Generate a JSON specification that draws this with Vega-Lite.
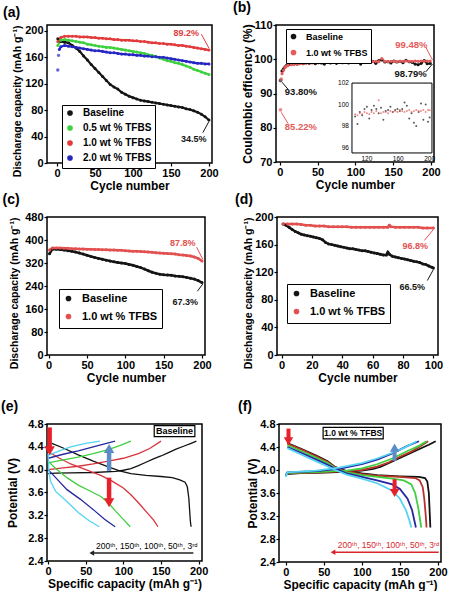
{
"$schema":"https://vega.github.io/schema/vega-lite/v6.json",
"background":"white",
"padding":{"left":0,"top":0,"right":0,"bottom":0},
"config":{
 "font":"Liberation Sans",
 "view":{"stroke":"black","strokeWidth":1.5},
 "axis":{"grid":false,"domain":false,"labelFontWeight":"bold","labelFontSize":11,"labelColor":"black","titleFontWeight":"bold","titleFontSize":12,"titleColor":"black","tickColor":"black","tickSize":3,"tickWidth":1.2,"labelPadding":1,"titlePadding":2,"labelFlush":false,"labelOverlap":false},
 "title":{"anchor":"start","frame":"bounds","fontSize":14,"fontWeight":"bold","color":"black","offset":0,"dx":-8},
 "legend":{"orient":"none","title":null,"strokeColor":"black","fillColor":"white","padding":3,"labelFontSize":10,"labelFontWeight":"bold","labelColor":"black","symbolType":"circle","symbolSize":10,"symbolStrokeWidth":2.5,"rowPadding":1,"labelOffset":8}
},
"datasets":{
 "a":[
{"s":"Baseline","x":1,"y":188},{"s":"Baseline","x":5,"y":184},{"s":"Baseline","x":10,"y":183},{"s":"Baseline","x":15,"y":182},{"s":"Baseline","x":20,"y":178},{"s":"Baseline","x":25,"y":174},{"s":"Baseline","x":30,"y":169},{"s":"Baseline","x":35,"y":162},{"s":"Baseline","x":40,"y":156},{"s":"Baseline","x":45,"y":149},{"s":"Baseline","x":50,"y":143},{"s":"Baseline","x":55,"y":137},{"s":"Baseline","x":60,"y":131},{"s":"Baseline","x":65,"y":125},{"s":"Baseline","x":70,"y":119},{"s":"Baseline","x":75,"y":115},{"s":"Baseline","x":80,"y":112},{"s":"Baseline","x":85,"y":107},{"s":"Baseline","x":90,"y":104},{"s":"Baseline","x":95,"y":101},{"s":"Baseline","x":100,"y":99},{"s":"Baseline","x":105,"y":97},{"s":"Baseline","x":110,"y":95},{"s":"Baseline","x":115,"y":94},{"s":"Baseline","x":120,"y":93},{"s":"Baseline","x":125,"y":92},{"s":"Baseline","x":130,"y":91},{"s":"Baseline","x":135,"y":90},{"s":"Baseline","x":140,"y":89},{"s":"Baseline","x":145,"y":88},{"s":"Baseline","x":150,"y":87},{"s":"Baseline","x":155,"y":86},{"s":"Baseline","x":160,"y":85},{"s":"Baseline","x":165,"y":84},{"s":"Baseline","x":170,"y":82},{"s":"Baseline","x":175,"y":81},{"s":"Baseline","x":180,"y":79},{"s":"Baseline","x":185,"y":77},{"s":"Baseline","x":190,"y":74},{"s":"Baseline","x":195,"y":70},{"s":"Baseline","x":200,"y":65},
{"s":"0.5 wt % TFBS","x":1,"y":178},{"s":"0.5 wt % TFBS","x":5,"y":186},{"s":"0.5 wt % TFBS","x":10,"y":187},{"s":"0.5 wt % TFBS","x":15,"y":186},{"s":"0.5 wt % TFBS","x":20,"y":185},{"s":"0.5 wt % TFBS","x":25,"y":184},{"s":"0.5 wt % TFBS","x":30,"y":183},{"s":"0.5 wt % TFBS","x":35,"y":182},{"s":"0.5 wt % TFBS","x":40,"y":180},{"s":"0.5 wt % TFBS","x":45,"y":179},{"s":"0.5 wt % TFBS","x":50,"y":178},{"s":"0.5 wt % TFBS","x":55,"y":177},{"s":"0.5 wt % TFBS","x":60,"y":176},{"s":"0.5 wt % TFBS","x":65,"y":175},{"s":"0.5 wt % TFBS","x":70,"y":175},{"s":"0.5 wt % TFBS","x":75,"y":174},{"s":"0.5 wt % TFBS","x":80,"y":173},{"s":"0.5 wt % TFBS","x":85,"y":172},{"s":"0.5 wt % TFBS","x":90,"y":171},{"s":"0.5 wt % TFBS","x":95,"y":170},{"s":"0.5 wt % TFBS","x":100,"y":169},{"s":"0.5 wt % TFBS","x":105,"y":168},{"s":"0.5 wt % TFBS","x":110,"y":167},{"s":"0.5 wt % TFBS","x":115,"y":166},{"s":"0.5 wt % TFBS","x":120,"y":164},{"s":"0.5 wt % TFBS","x":125,"y":163},{"s":"0.5 wt % TFBS","x":130,"y":161},{"s":"0.5 wt % TFBS","x":135,"y":159},{"s":"0.5 wt % TFBS","x":140,"y":157},{"s":"0.5 wt % TFBS","x":145,"y":155},{"s":"0.5 wt % TFBS","x":150,"y":154},{"s":"0.5 wt % TFBS","x":155,"y":152},{"s":"0.5 wt % TFBS","x":160,"y":151},{"s":"0.5 wt % TFBS","x":165,"y":149},{"s":"0.5 wt % TFBS","x":170,"y":147},{"s":"0.5 wt % TFBS","x":175,"y":145},{"s":"0.5 wt % TFBS","x":180,"y":142},{"s":"0.5 wt % TFBS","x":185,"y":140},{"s":"0.5 wt % TFBS","x":190,"y":138},{"s":"0.5 wt % TFBS","x":195,"y":136},{"s":"0.5 wt % TFBS","x":200,"y":134},
{"s":"2.0 wt % TFBS","x":3,"y":172},{"s":"2.0 wt % TFBS","x":5,"y":176},{"s":"2.0 wt % TFBS","x":10,"y":178},{"s":"2.0 wt % TFBS","x":15,"y":177},{"s":"2.0 wt % TFBS","x":20,"y":176},{"s":"2.0 wt % TFBS","x":25,"y":175},{"s":"2.0 wt % TFBS","x":30,"y":174},{"s":"2.0 wt % TFBS","x":35,"y":173},{"s":"2.0 wt % TFBS","x":40,"y":172},{"s":"2.0 wt % TFBS","x":45,"y":171},{"s":"2.0 wt % TFBS","x":50,"y":170},{"s":"2.0 wt % TFBS","x":55,"y":170},{"s":"2.0 wt % TFBS","x":60,"y":169},{"s":"2.0 wt % TFBS","x":65,"y":168},{"s":"2.0 wt % TFBS","x":70,"y":167},{"s":"2.0 wt % TFBS","x":75,"y":167},{"s":"2.0 wt % TFBS","x":80,"y":166},{"s":"2.0 wt % TFBS","x":85,"y":165},{"s":"2.0 wt % TFBS","x":90,"y":165},{"s":"2.0 wt % TFBS","x":95,"y":164},{"s":"2.0 wt % TFBS","x":100,"y":164},{"s":"2.0 wt % TFBS","x":105,"y":163},{"s":"2.0 wt % TFBS","x":110,"y":163},{"s":"2.0 wt % TFBS","x":115,"y":162},{"s":"2.0 wt % TFBS","x":120,"y":162},{"s":"2.0 wt % TFBS","x":125,"y":161},{"s":"2.0 wt % TFBS","x":130,"y":161},{"s":"2.0 wt % TFBS","x":135,"y":160},{"s":"2.0 wt % TFBS","x":140,"y":160},{"s":"2.0 wt % TFBS","x":145,"y":159},{"s":"2.0 wt % TFBS","x":150,"y":158},{"s":"2.0 wt % TFBS","x":155,"y":157},{"s":"2.0 wt % TFBS","x":160,"y":156},{"s":"2.0 wt % TFBS","x":165,"y":155},{"s":"2.0 wt % TFBS","x":170,"y":154},{"s":"2.0 wt % TFBS","x":175,"y":153},{"s":"2.0 wt % TFBS","x":180,"y":152},{"s":"2.0 wt % TFBS","x":185,"y":151},{"s":"2.0 wt % TFBS","x":190,"y":151},{"s":"2.0 wt % TFBS","x":195,"y":150},{"s":"2.0 wt % TFBS","x":200,"y":150},
{"s":"1.0 wt % TFBS","x":1,"y":184},{"s":"1.0 wt % TFBS","x":5,"y":190},{"s":"1.0 wt % TFBS","x":10,"y":192},{"s":"1.0 wt % TFBS","x":15,"y":192},{"s":"1.0 wt % TFBS","x":20,"y":192},{"s":"1.0 wt % TFBS","x":25,"y":192},{"s":"1.0 wt % TFBS","x":30,"y":191},{"s":"1.0 wt % TFBS","x":35,"y":191},{"s":"1.0 wt % TFBS","x":40,"y":191},{"s":"1.0 wt % TFBS","x":45,"y":190},{"s":"1.0 wt % TFBS","x":50,"y":190},{"s":"1.0 wt % TFBS","x":55,"y":189},{"s":"1.0 wt % TFBS","x":60,"y":189},{"s":"1.0 wt % TFBS","x":65,"y":188},{"s":"1.0 wt % TFBS","x":70,"y":188},{"s":"1.0 wt % TFBS","x":75,"y":187},{"s":"1.0 wt % TFBS","x":80,"y":187},{"s":"1.0 wt % TFBS","x":85,"y":186},{"s":"1.0 wt % TFBS","x":90,"y":186},{"s":"1.0 wt % TFBS","x":95,"y":186},{"s":"1.0 wt % TFBS","x":100,"y":185},{"s":"1.0 wt % TFBS","x":105,"y":185},{"s":"1.0 wt % TFBS","x":110,"y":184},{"s":"1.0 wt % TFBS","x":115,"y":184},{"s":"1.0 wt % TFBS","x":120,"y":183},{"s":"1.0 wt % TFBS","x":125,"y":182},{"s":"1.0 wt % TFBS","x":130,"y":182},{"s":"1.0 wt % TFBS","x":135,"y":181},{"s":"1.0 wt % TFBS","x":140,"y":181},{"s":"1.0 wt % TFBS","x":145,"y":180},{"s":"1.0 wt % TFBS","x":150,"y":180},{"s":"1.0 wt % TFBS","x":155,"y":179},{"s":"1.0 wt % TFBS","x":160,"y":178},{"s":"1.0 wt % TFBS","x":165,"y":178},{"s":"1.0 wt % TFBS","x":170,"y":177},{"s":"1.0 wt % TFBS","x":175,"y":176},{"s":"1.0 wt % TFBS","x":180,"y":175},{"s":"1.0 wt % TFBS","x":185,"y":174},{"s":"1.0 wt % TFBS","x":190,"y":173},{"s":"1.0 wt % TFBS","x":195,"y":172},{"s":"1.0 wt % TFBS","x":200,"y":171}
 ],
 "a0":[{"s":"2.0 wt % TFBS","x":1,"y":141},{"s":"2.0 wt % TFBS","x":2,"y":163}],
 "at":[{"s":"1.0 wt % TFBS","x":170,"y":197,"t":"89.2%"},{"s":"Baseline","x":180,"y":36,"t":"34.5%"}],
 "ar":[{"s":"1.0 wt % TFBS","x":190,"y":195,"x2":200,"y2":174},{"s":"Baseline","x":200,"y":63,"x2":192,"y2":46}],
 "b":[
{"s":"Baseline","x":3,"y":96.6},{"s":"Baseline","x":5,"y":97.2},{"s":"Baseline","x":7,"y":97.8},{"s":"Baseline","x":9,"y":98.2},{"s":"Baseline","x":11,"y":98.4},{"s":"Baseline","x":13,"y":98.5},{"s":"Baseline","x":15,"y":98.6},{"s":"Baseline","x":19,"y":98.7},{"s":"Baseline","x":23,"y":98.6},{"s":"Baseline","x":27,"y":98.9},{"s":"Baseline","x":31,"y":98.7},{"s":"Baseline","x":35,"y":99.0},{"s":"Baseline","x":39,"y":98.8},{"s":"Baseline","x":43,"y":99.1},{"s":"Baseline","x":47,"y":98.7},{"s":"Baseline","x":51,"y":99.0},{"s":"Baseline","x":55,"y":98.9},{"s":"Baseline","x":59,"y":98.6},{"s":"Baseline","x":63,"y":99.2},{"s":"Baseline","x":67,"y":98.9},{"s":"Baseline","x":71,"y":99.1},{"s":"Baseline","x":75,"y":98.8},{"s":"Baseline","x":79,"y":99.3},{"s":"Baseline","x":83,"y":99.0},{"s":"Baseline","x":87,"y":99.4},{"s":"Baseline","x":91,"y":98.9},{"s":"Baseline","x":95,"y":99.6},{"s":"Baseline","x":99,"y":99.2},{"s":"Baseline","x":103,"y":99.8},{"s":"Baseline","x":107,"y":98.6},{"s":"Baseline","x":111,"y":99.3},{"s":"Baseline","x":115,"y":99.5},{"s":"Baseline","x":119,"y":99.1},{"s":"Baseline","x":123,"y":99.4},{"s":"Baseline","x":127,"y":98.8},{"s":"Baseline","x":131,"y":99.6},{"s":"Baseline","x":135,"y":99.8},{"s":"Baseline","x":139,"y":99.2},{"s":"Baseline","x":143,"y":99.3},{"s":"Baseline","x":147,"y":98.9},{"s":"Baseline","x":151,"y":99.5},{"s":"Baseline","x":155,"y":99.2},{"s":"Baseline","x":159,"y":99.4},{"s":"Baseline","x":163,"y":99.0},{"s":"Baseline","x":167,"y":99.7},{"s":"Baseline","x":171,"y":99.3},{"s":"Baseline","x":175,"y":99.1},{"s":"Baseline","x":179,"y":98.6},{"s":"Baseline","x":183,"y":98.4},{"s":"Baseline","x":187,"y":98.8},{"s":"Baseline","x":191,"y":99.6},{"s":"Baseline","x":195,"y":98.7},{"s":"Baseline","x":199,"y":98.79},
{"s":"1.0 wt % TFBS","x":3,"y":95.8},{"s":"1.0 wt % TFBS","x":5,"y":96.8},{"s":"1.0 wt % TFBS","x":7,"y":97.6},{"s":"1.0 wt % TFBS","x":9,"y":98.0},{"s":"1.0 wt % TFBS","x":11,"y":98.2},{"s":"1.0 wt % TFBS","x":15,"y":98.4},{"s":"1.0 wt % TFBS","x":19,"y":98.5},{"s":"1.0 wt % TFBS","x":23,"y":98.6},{"s":"1.0 wt % TFBS","x":27,"y":98.7},{"s":"1.0 wt % TFBS","x":31,"y":98.8},{"s":"1.0 wt % TFBS","x":35,"y":98.8},{"s":"1.0 wt % TFBS","x":39,"y":98.9},{"s":"1.0 wt % TFBS","x":43,"y":98.9},{"s":"1.0 wt % TFBS","x":47,"y":99.0},{"s":"1.0 wt % TFBS","x":51,"y":99.0},{"s":"1.0 wt % TFBS","x":55,"y":99.0},{"s":"1.0 wt % TFBS","x":59,"y":99.1},{"s":"1.0 wt % TFBS","x":63,"y":99.1},{"s":"1.0 wt % TFBS","x":67,"y":99.1},{"s":"1.0 wt % TFBS","x":71,"y":99.1},{"s":"1.0 wt % TFBS","x":75,"y":99.2},{"s":"1.0 wt % TFBS","x":79,"y":99.2},{"s":"1.0 wt % TFBS","x":83,"y":99.2},{"s":"1.0 wt % TFBS","x":87,"y":99.2},{"s":"1.0 wt % TFBS","x":91,"y":99.3},{"s":"1.0 wt % TFBS","x":95,"y":99.2},{"s":"1.0 wt % TFBS","x":99,"y":99.3},{"s":"1.0 wt % TFBS","x":103,"y":99.3},{"s":"1.0 wt % TFBS","x":107,"y":99.2},{"s":"1.0 wt % TFBS","x":111,"y":99.3},{"s":"1.0 wt % TFBS","x":115,"y":99.3},{"s":"1.0 wt % TFBS","x":119,"y":99.4},{"s":"1.0 wt % TFBS","x":123,"y":99.3},{"s":"1.0 wt % TFBS","x":127,"y":99.4},{"s":"1.0 wt % TFBS","x":131,"y":99.3},{"s":"1.0 wt % TFBS","x":135,"y":100.2},{"s":"1.0 wt % TFBS","x":139,"y":99.4},{"s":"1.0 wt % TFBS","x":143,"y":99.3},{"s":"1.0 wt % TFBS","x":147,"y":99.4},{"s":"1.0 wt % TFBS","x":151,"y":99.4},{"s":"1.0 wt % TFBS","x":155,"y":99.3},{"s":"1.0 wt % TFBS","x":159,"y":99.4},{"s":"1.0 wt % TFBS","x":163,"y":99.4},{"s":"1.0 wt % TFBS","x":167,"y":99.5},{"s":"1.0 wt % TFBS","x":171,"y":99.4},{"s":"1.0 wt % TFBS","x":175,"y":99.4},{"s":"1.0 wt % TFBS","x":179,"y":99.5},{"s":"1.0 wt % TFBS","x":183,"y":99.4},{"s":"1.0 wt % TFBS","x":187,"y":99.5},{"s":"1.0 wt % TFBS","x":191,"y":99.4},{"s":"1.0 wt % TFBS","x":195,"y":99.5},{"s":"1.0 wt % TFBS","x":199,"y":99.48}
 ],
 "b0":[{"s":"Baseline","x":1,"y":93.8},{"s":"1.0 wt % TFBS","x":1,"y":85.22},{"s":"1.0 wt % TFBS","x":2,"y":94.2}],
 "bt":[{"s":"1.0 wt % TFBS","x":174,"y":104.2,"t":"99.48%"},{"s":"Baseline","x":173,"y":95.7,"t":"98.79%"},{"s":"Baseline","x":28,"y":90.4,"t":"93.80%"},{"s":"1.0 wt % TFBS","x":28,"y":80.2,"t":"85.22%"}],
 "br":[{"s":"1.0 wt % TFBS","x":193,"y":103.6,"x2":202,"y2":99.8},{"s":"Baseline","x":193,"y":96.3,"x2":202,"y2":98.6},{"s":"Baseline","x":3,"y":93.3,"x2":11,"y2":91.2},{"s":"1.0 wt % TFBS","x":2,"y":84.5,"x2":11,"y2":81.2}],
 "bi":[
{"s":"Baseline","x":105,"y":98.9},{"s":"Baseline","x":108,"y":98.2},{"s":"Baseline","x":111,"y":99.3},{"s":"Baseline","x":114,"y":99.0},{"s":"Baseline","x":117,"y":99.6},{"s":"Baseline","x":120,"y":99.8},{"s":"Baseline","x":123,"y":98.7},{"s":"Baseline","x":126,"y":99.5},{"s":"Baseline","x":129,"y":99.9},{"s":"Baseline","x":132,"y":99.6},{"s":"Baseline","x":135,"y":99.2},{"s":"Baseline","x":138,"y":99.7},{"s":"Baseline","x":141,"y":98.6},{"s":"Baseline","x":144,"y":99.4},{"s":"Baseline","x":147,"y":99.5},{"s":"Baseline","x":150,"y":99.8},{"s":"Baseline","x":153,"y":99.3},{"s":"Baseline","x":156,"y":99.5},{"s":"Baseline","x":159,"y":99.6},{"s":"Baseline","x":162,"y":99.4},{"s":"Baseline","x":165,"y":99.6},{"s":"Baseline","x":168,"y":100.2},{"s":"Baseline","x":171,"y":99.9},{"s":"Baseline","x":174,"y":98.7},{"s":"Baseline","x":177,"y":99.2},{"s":"Baseline","x":180,"y":98.3},{"s":"Baseline","x":183,"y":98.0},{"s":"Baseline","x":186,"y":99.3},{"s":"Baseline","x":189,"y":100.1},{"s":"Baseline","x":192,"y":98.6},{"s":"Baseline","x":195,"y":100.0},{"s":"Baseline","x":198,"y":98.4},{"s":"Baseline","x":200,"y":98.8},
{"s":"1.0 wt % TFBS","x":105,"y":99.1},{"s":"1.0 wt % TFBS","x":108,"y":99.0},{"s":"1.0 wt % TFBS","x":111,"y":99.2},{"s":"1.0 wt % TFBS","x":114,"y":99.1},{"s":"1.0 wt % TFBS","x":117,"y":99.3},{"s":"1.0 wt % TFBS","x":120,"y":99.2},{"s":"1.0 wt % TFBS","x":123,"y":99.1},{"s":"1.0 wt % TFBS","x":126,"y":99.3},{"s":"1.0 wt % TFBS","x":129,"y":99.2},{"s":"1.0 wt % TFBS","x":132,"y":99.4},{"s":"1.0 wt % TFBS","x":135,"y":100.4},{"s":"1.0 wt % TFBS","x":138,"y":99.2},{"s":"1.0 wt % TFBS","x":141,"y":99.3},{"s":"1.0 wt % TFBS","x":144,"y":99.3},{"s":"1.0 wt % TFBS","x":147,"y":99.2},{"s":"1.0 wt % TFBS","x":150,"y":99.4},{"s":"1.0 wt % TFBS","x":153,"y":99.3},{"s":"1.0 wt % TFBS","x":156,"y":99.4},{"s":"1.0 wt % TFBS","x":159,"y":99.3},{"s":"1.0 wt % TFBS","x":162,"y":99.5},{"s":"1.0 wt % TFBS","x":165,"y":99.4},{"s":"1.0 wt % TFBS","x":168,"y":99.3},{"s":"1.0 wt % TFBS","x":171,"y":99.4},{"s":"1.0 wt % TFBS","x":174,"y":99.5},{"s":"1.0 wt % TFBS","x":177,"y":99.3},{"s":"1.0 wt % TFBS","x":180,"y":99.4},{"s":"1.0 wt % TFBS","x":183,"y":99.5},{"s":"1.0 wt % TFBS","x":186,"y":99.4},{"s":"1.0 wt % TFBS","x":189,"y":99.4},{"s":"1.0 wt % TFBS","x":192,"y":99.5},{"s":"1.0 wt % TFBS","x":195,"y":99.3},{"s":"1.0 wt % TFBS","x":198,"y":99.5},{"s":"1.0 wt % TFBS","x":200,"y":99.48}
 ],
 "bix":[{"x":120,"y":95.5,"t":"120"},{"x":160,"y":95.5,"t":"160"},{"x":200,"y":95.5,"t":"200"}],
 "biy":[{"x":101,"y":96,"t":"96"},{"x":101,"y":98,"t":"98"},{"x":101,"y":100,"t":"100"},{"x":101,"y":102,"t":"102"}],
 "c":[
{"s":"Baseline","x":1,"y":352},{"s":"Baseline","x":5,"y":369},{"s":"Baseline","x":10,"y":368},{"s":"Baseline","x":15,"y":367},{"s":"Baseline","x":20,"y":365},{"s":"Baseline","x":25,"y":363},{"s":"Baseline","x":30,"y":361},{"s":"Baseline","x":35,"y":358},{"s":"Baseline","x":40,"y":355},{"s":"Baseline","x":45,"y":351},{"s":"Baseline","x":50,"y":347},{"s":"Baseline","x":55,"y":343},{"s":"Baseline","x":60,"y":339},{"s":"Baseline","x":65,"y":336},{"s":"Baseline","x":70,"y":333},{"s":"Baseline","x":75,"y":330},{"s":"Baseline","x":80,"y":327},{"s":"Baseline","x":85,"y":324},{"s":"Baseline","x":90,"y":322},{"s":"Baseline","x":95,"y":320},{"s":"Baseline","x":100,"y":318},{"s":"Baseline","x":105,"y":315},{"s":"Baseline","x":110,"y":312},{"s":"Baseline","x":115,"y":308},{"s":"Baseline","x":120,"y":304},{"s":"Baseline","x":125,"y":299},{"s":"Baseline","x":130,"y":293},{"s":"Baseline","x":135,"y":288},{"s":"Baseline","x":140,"y":284},{"s":"Baseline","x":145,"y":281},{"s":"Baseline","x":150,"y":279},{"s":"Baseline","x":155,"y":278},{"s":"Baseline","x":160,"y":277},{"s":"Baseline","x":165,"y":275},{"s":"Baseline","x":170,"y":274},{"s":"Baseline","x":175,"y":272},{"s":"Baseline","x":180,"y":270},{"s":"Baseline","x":185,"y":267},{"s":"Baseline","x":190,"y":264},{"s":"Baseline","x":195,"y":259},{"s":"Baseline","x":200,"y":252},
{"s":"1.0 wt % TFBS","x":1,"y":365},{"s":"1.0 wt % TFBS","x":5,"y":372},{"s":"1.0 wt % TFBS","x":10,"y":372},{"s":"1.0 wt % TFBS","x":15,"y":372},{"s":"1.0 wt % TFBS","x":20,"y":371},{"s":"1.0 wt % TFBS","x":25,"y":371},{"s":"1.0 wt % TFBS","x":30,"y":370},{"s":"1.0 wt % TFBS","x":35,"y":370},{"s":"1.0 wt % TFBS","x":40,"y":369},{"s":"1.0 wt % TFBS","x":45,"y":369},{"s":"1.0 wt % TFBS","x":50,"y":368},{"s":"1.0 wt % TFBS","x":55,"y":368},{"s":"1.0 wt % TFBS","x":60,"y":367},{"s":"1.0 wt % TFBS","x":65,"y":367},{"s":"1.0 wt % TFBS","x":70,"y":366},{"s":"1.0 wt % TFBS","x":75,"y":366},{"s":"1.0 wt % TFBS","x":80,"y":365},{"s":"1.0 wt % TFBS","x":85,"y":365},{"s":"1.0 wt % TFBS","x":90,"y":364},{"s":"1.0 wt % TFBS","x":95,"y":364},{"s":"1.0 wt % TFBS","x":100,"y":363},{"s":"1.0 wt % TFBS","x":105,"y":362},{"s":"1.0 wt % TFBS","x":110,"y":361},{"s":"1.0 wt % TFBS","x":115,"y":361},{"s":"1.0 wt % TFBS","x":120,"y":360},{"s":"1.0 wt % TFBS","x":125,"y":359},{"s":"1.0 wt % TFBS","x":130,"y":358},{"s":"1.0 wt % TFBS","x":135,"y":357},{"s":"1.0 wt % TFBS","x":140,"y":356},{"s":"1.0 wt % TFBS","x":145,"y":355},{"s":"1.0 wt % TFBS","x":150,"y":354},{"s":"1.0 wt % TFBS","x":155,"y":353},{"s":"1.0 wt % TFBS","x":160,"y":352},{"s":"1.0 wt % TFBS","x":165,"y":351},{"s":"1.0 wt % TFBS","x":170,"y":349},{"s":"1.0 wt % TFBS","x":175,"y":348},{"s":"1.0 wt % TFBS","x":180,"y":346},{"s":"1.0 wt % TFBS","x":185,"y":344},{"s":"1.0 wt % TFBS","x":190,"y":341},{"s":"1.0 wt % TFBS","x":195,"y":336},{"s":"1.0 wt % TFBS","x":200,"y":327}
 ],
 "ct":[{"s":"1.0 wt % TFBS","x":175,"y":388,"t":"87.8%"},{"s":"Baseline","x":178,"y":184,"t":"67.3%"}],
 "cr":[{"s":"1.0 wt % TFBS","x":193,"y":375,"x2":201,"y2":333},{"s":"Baseline","x":201,"y":247,"x2":194,"y2":222}],
 "d":[
{"s":"Baseline","x":1,"y":190},{"s":"Baseline","x":3,"y":188},{"s":"Baseline","x":5,"y":185},{"s":"Baseline","x":7,"y":182},{"s":"Baseline","x":9,"y":179},{"s":"Baseline","x":11,"y":177},{"s":"Baseline","x":13,"y":175},{"s":"Baseline","x":15,"y":174},{"s":"Baseline","x":17,"y":173},{"s":"Baseline","x":19,"y":172},{"s":"Baseline","x":21,"y":171},{"s":"Baseline","x":23,"y":170},{"s":"Baseline","x":25,"y":169},{"s":"Baseline","x":27,"y":167},{"s":"Baseline","x":29,"y":163},{"s":"Baseline","x":31,"y":161},{"s":"Baseline","x":33,"y":160},{"s":"Baseline","x":35,"y":159},{"s":"Baseline","x":37,"y":158},{"s":"Baseline","x":39,"y":157},{"s":"Baseline","x":41,"y":156},{"s":"Baseline","x":43,"y":155},{"s":"Baseline","x":45,"y":154},{"s":"Baseline","x":47,"y":154},{"s":"Baseline","x":49,"y":153},{"s":"Baseline","x":51,"y":152},{"s":"Baseline","x":53,"y":151},{"s":"Baseline","x":55,"y":151},{"s":"Baseline","x":57,"y":150},{"s":"Baseline","x":59,"y":149},{"s":"Baseline","x":61,"y":148},{"s":"Baseline","x":63,"y":147},{"s":"Baseline","x":65,"y":146},{"s":"Baseline","x":67,"y":145},{"s":"Baseline","x":69,"y":145},{"s":"Baseline","x":70,"y":149},{"s":"Baseline","x":71,"y":146},{"s":"Baseline","x":73,"y":143},{"s":"Baseline","x":75,"y":142},{"s":"Baseline","x":77,"y":141},{"s":"Baseline","x":79,"y":140},{"s":"Baseline","x":81,"y":139},{"s":"Baseline","x":83,"y":138},{"s":"Baseline","x":85,"y":137},{"s":"Baseline","x":87,"y":136},{"s":"Baseline","x":89,"y":135},{"s":"Baseline","x":91,"y":134},{"s":"Baseline","x":93,"y":132},{"s":"Baseline","x":95,"y":131},{"s":"Baseline","x":97,"y":129},{"s":"Baseline","x":99,"y":127},{"s":"Baseline","x":100,"y":126},
{"s":"1.0 wt % TFBS","x":1,"y":190},{"s":"1.0 wt % TFBS","x":4,"y":190},{"s":"1.0 wt % TFBS","x":7,"y":190},{"s":"1.0 wt % TFBS","x":10,"y":190},{"s":"1.0 wt % TFBS","x":13,"y":189},{"s":"1.0 wt % TFBS","x":16,"y":188},{"s":"1.0 wt % TFBS","x":19,"y":188},{"s":"1.0 wt % TFBS","x":22,"y":187},{"s":"1.0 wt % TFBS","x":25,"y":187},{"s":"1.0 wt % TFBS","x":28,"y":187},{"s":"1.0 wt % TFBS","x":31,"y":186},{"s":"1.0 wt % TFBS","x":34,"y":186},{"s":"1.0 wt % TFBS","x":37,"y":186},{"s":"1.0 wt % TFBS","x":40,"y":186},{"s":"1.0 wt % TFBS","x":43,"y":186},{"s":"1.0 wt % TFBS","x":46,"y":185},{"s":"1.0 wt % TFBS","x":49,"y":185},{"s":"1.0 wt % TFBS","x":52,"y":185},{"s":"1.0 wt % TFBS","x":55,"y":185},{"s":"1.0 wt % TFBS","x":58,"y":185},{"s":"1.0 wt % TFBS","x":61,"y":185},{"s":"1.0 wt % TFBS","x":64,"y":185},{"s":"1.0 wt % TFBS","x":67,"y":185},{"s":"1.0 wt % TFBS","x":70,"y":185},{"s":"1.0 wt % TFBS","x":71,"y":188},{"s":"1.0 wt % TFBS","x":72,"y":186},{"s":"1.0 wt % TFBS","x":75,"y":185},{"s":"1.0 wt % TFBS","x":78,"y":185},{"s":"1.0 wt % TFBS","x":81,"y":185},{"s":"1.0 wt % TFBS","x":84,"y":185},{"s":"1.0 wt % TFBS","x":87,"y":185},{"s":"1.0 wt % TFBS","x":90,"y":185},{"s":"1.0 wt % TFBS","x":93,"y":184},{"s":"1.0 wt % TFBS","x":96,"y":184},{"s":"1.0 wt % TFBS","x":100,"y":184}
 ],
 "dt":[{"s":"1.0 wt % TFBS","x":88,"y":158,"t":"96.8%"},{"s":"Baseline","x":86,"y":98.5,"t":"66.5%"}],
 "dr":[{"s":"1.0 wt % TFBS","x":100,"y":182,"x2":94,"y2":166},{"s":"Baseline","x":100,"y":124,"x2":96,"y2":108}],
 "e":[
{"c":"3rd","g":"ch","x":0,"y":3.93},{"c":"3rd","g":"ch","x":10,"y":3.94},{"c":"3rd","g":"ch","x":30,"y":3.945},{"c":"3rd","g":"ch","x":60,"y":3.95},{"c":"3rd","g":"ch","x":90,"y":3.97},{"c":"3rd","g":"ch","x":100,"y":3.99},{"c":"3rd","g":"ch","x":110,"y":4.02},{"c":"3rd","g":"ch","x":120,"y":4.07},{"c":"3rd","g":"ch","x":130,"y":4.13},{"c":"3rd","g":"ch","x":140,"y":4.19},{"c":"3rd","g":"ch","x":150,"y":4.24},{"c":"3rd","g":"ch","x":160,"y":4.3},{"c":"3rd","g":"ch","x":170,"y":4.36},{"c":"3rd","g":"ch","x":180,"y":4.41},{"c":"3rd","g":"ch","x":190,"y":4.46},{"c":"3rd","g":"ch","x":197,"y":4.5},
{"c":"3rd","g":"dis","x":5,"y":4.46},{"c":"3rd","g":"dis","x":20,"y":4.38},{"c":"3rd","g":"dis","x":40,"y":4.26},{"c":"3rd","g":"dis","x":60,"y":4.15},{"c":"3rd","g":"dis","x":80,"y":4.05},{"c":"3rd","g":"dis","x":95,"y":3.98},{"c":"3rd","g":"dis","x":110,"y":3.93},{"c":"3rd","g":"dis","x":130,"y":3.9},{"c":"3rd","g":"dis","x":150,"y":3.88},{"c":"3rd","g":"dis","x":165,"y":3.86},{"c":"3rd","g":"dis","x":175,"y":3.82},{"c":"3rd","g":"dis","x":182,"y":3.78},{"c":"3rd","g":"dis","x":185,"y":3.7},{"c":"3rd","g":"dis","x":187,"y":3.5},{"c":"3rd","g":"dis","x":188,"y":3.3},{"c":"3rd","g":"dis","x":189,"y":3.1},{"c":"3rd","g":"dis","x":190,"y":3.0},
{"c":"50th","g":"ch","x":0,"y":4.0},{"c":"50th","g":"ch","x":20,"y":4.03},{"c":"50th","g":"ch","x":40,"y":4.06},{"c":"50th","g":"ch","x":60,"y":4.1},{"c":"50th","g":"ch","x":80,"y":4.15},{"c":"50th","g":"ch","x":100,"y":4.2},{"c":"50th","g":"ch","x":120,"y":4.28},{"c":"50th","g":"ch","x":135,"y":4.37},{"c":"50th","g":"ch","x":150,"y":4.5},
{"c":"50th","g":"dis","x":2,"y":4.3},{"c":"50th","g":"dis","x":15,"y":4.2},{"c":"50th","g":"dis","x":30,"y":4.1},{"c":"50th","g":"dis","x":50,"y":4.0},{"c":"50th","g":"dis","x":70,"y":3.9},{"c":"50th","g":"dis","x":85,"y":3.8},{"c":"50th","g":"dis","x":100,"y":3.68},{"c":"50th","g":"dis","x":110,"y":3.56},{"c":"50th","g":"dis","x":120,"y":3.42},{"c":"50th","g":"dis","x":130,"y":3.27},{"c":"50th","g":"dis","x":140,"y":3.12},{"c":"50th","g":"dis","x":146,"y":3.0},
{"c":"100th","g":"ch","x":0,"y":4.12},{"c":"100th","g":"ch","x":20,"y":4.17},{"c":"100th","g":"ch","x":40,"y":4.22},{"c":"100th","g":"ch","x":60,"y":4.28},{"c":"100th","g":"ch","x":80,"y":4.35},{"c":"100th","g":"ch","x":95,"y":4.42},{"c":"100th","g":"ch","x":110,"y":4.5},
{"c":"100th","g":"dis","x":0,"y":4.15},{"c":"100th","g":"dis","x":10,"y":4.02},{"c":"100th","g":"dis","x":25,"y":3.86},{"c":"100th","g":"dis","x":40,"y":3.73},{"c":"100th","g":"dis","x":55,"y":3.63},{"c":"100th","g":"dis","x":70,"y":3.53},{"c":"100th","g":"dis","x":80,"y":3.42},{"c":"100th","g":"dis","x":90,"y":3.27},{"c":"100th","g":"dis","x":100,"y":3.13},{"c":"100th","g":"dis","x":109,"y":3.0},
{"c":"150th","g":"ch","x":0,"y":4.2},{"c":"150th","g":"ch","x":20,"y":4.27},{"c":"150th","g":"ch","x":40,"y":4.33},{"c":"150th","g":"ch","x":60,"y":4.4},{"c":"150th","g":"ch","x":75,"y":4.45},{"c":"150th","g":"ch","x":89,"y":4.5},
{"c":"150th","g":"dis","x":0,"y":4.0},{"c":"150th","g":"dis","x":10,"y":3.86},{"c":"150th","g":"dis","x":25,"y":3.65},{"c":"150th","g":"dis","x":43,"y":3.48},{"c":"150th","g":"dis","x":60,"y":3.3},{"c":"150th","g":"dis","x":75,"y":3.13},{"c":"150th","g":"dis","x":89,"y":3.0},
{"c":"200th","g":"ch","x":0,"y":4.25},{"c":"200th","g":"ch","x":15,"y":4.33},{"c":"200th","g":"ch","x":30,"y":4.4},{"c":"200th","g":"ch","x":50,"y":4.46},{"c":"200th","g":"ch","x":69,"y":4.5},
{"c":"200th","g":"dis","x":0,"y":4.28},{"c":"200th","g":"dis","x":1,"y":4.0},{"c":"200th","g":"dis","x":3,"y":3.8},{"c":"200th","g":"dis","x":10,"y":3.62},{"c":"200th","g":"dis","x":26,"y":3.43},{"c":"200th","g":"dis","x":40,"y":3.25},{"c":"200th","g":"dis","x":55,"y":3.1},{"c":"200th","g":"dis","x":68,"y":3.0}
 ],
 "f":[
{"c":"3rd","g":"ch","x":0,"y":3.93},{"c":"3rd","g":"ch","x":20,"y":3.945},{"c":"3rd","g":"ch","x":40,"y":3.95},{"c":"3rd","g":"ch","x":60,"y":3.96},{"c":"3rd","g":"ch","x":80,"y":3.97},{"c":"3rd","g":"ch","x":100,"y":3.99},{"c":"3rd","g":"ch","x":115,"y":4.02},{"c":"3rd","g":"ch","x":125,"y":4.06},{"c":"3rd","g":"ch","x":135,"y":4.12},{"c":"3rd","g":"ch","x":145,"y":4.18},{"c":"3rd","g":"ch","x":160,"y":4.27},{"c":"3rd","g":"ch","x":175,"y":4.36},{"c":"3rd","g":"ch","x":188,"y":4.44},{"c":"3rd","g":"ch","x":197,"y":4.5},
{"c":"3rd","g":"dis","x":2,"y":4.47},{"c":"3rd","g":"dis","x":20,"y":4.37},{"c":"3rd","g":"dis","x":40,"y":4.25},{"c":"3rd","g":"dis","x":55,"y":4.15},{"c":"3rd","g":"dis","x":65,"y":4.05},{"c":"3rd","g":"dis","x":80,"y":3.98},{"c":"3rd","g":"dis","x":100,"y":3.94},{"c":"3rd","g":"dis","x":120,"y":3.91},{"c":"3rd","g":"dis","x":150,"y":3.89},{"c":"3rd","g":"dis","x":175,"y":3.88},{"c":"3rd","g":"dis","x":183,"y":3.86},{"c":"3rd","g":"dis","x":186,"y":3.8},{"c":"3rd","g":"dis","x":188,"y":3.6},{"c":"3rd","g":"dis","x":189,"y":3.3},{"c":"3rd","g":"dis","x":190,"y":3.0},
{"c":"50th","g":"ch","x":0,"y":3.94},{"c":"50th","g":"ch","x":40,"y":3.955},{"c":"50th","g":"ch","x":80,"y":3.98},{"c":"50th","g":"ch","x":100,"y":4.0},{"c":"50th","g":"ch","x":120,"y":4.06},{"c":"50th","g":"ch","x":135,"y":4.13},{"c":"50th","g":"ch","x":150,"y":4.23},{"c":"50th","g":"ch","x":165,"y":4.32},{"c":"50th","g":"ch","x":178,"y":4.42},{"c":"50th","g":"ch","x":187,"y":4.5},
{"c":"50th","g":"dis","x":2,"y":4.46},{"c":"50th","g":"dis","x":20,"y":4.36},{"c":"50th","g":"dis","x":40,"y":4.24},{"c":"50th","g":"dis","x":55,"y":4.14},{"c":"50th","g":"dis","x":65,"y":4.05},{"c":"50th","g":"dis","x":80,"y":3.97},{"c":"50th","g":"dis","x":100,"y":3.93},{"c":"50th","g":"dis","x":120,"y":3.9},{"c":"50th","g":"dis","x":150,"y":3.88},{"c":"50th","g":"dis","x":170,"y":3.86},{"c":"50th","g":"dis","x":176,"y":3.82},{"c":"50th","g":"dis","x":180,"y":3.7},{"c":"50th","g":"dis","x":182,"y":3.5},{"c":"50th","g":"dis","x":184,"y":3.2},{"c":"50th","g":"dis","x":185,"y":3.0},
{"c":"100th","g":"ch","x":0,"y":3.9},{"c":"100th","g":"ch","x":2,"y":3.95},{"c":"100th","g":"ch","x":40,"y":3.965},{"c":"100th","g":"ch","x":80,"y":3.99},{"c":"100th","g":"ch","x":100,"y":4.03},{"c":"100th","g":"ch","x":120,"y":4.1},{"c":"100th","g":"ch","x":140,"y":4.2},{"c":"100th","g":"ch","x":160,"y":4.33},{"c":"100th","g":"ch","x":175,"y":4.42},{"c":"100th","g":"ch","x":185,"y":4.5},
{"c":"100th","g":"dis","x":2,"y":4.43},{"c":"100th","g":"dis","x":20,"y":4.33},{"c":"100th","g":"dis","x":40,"y":4.21},{"c":"100th","g":"dis","x":55,"y":4.12},{"c":"100th","g":"dis","x":65,"y":4.03},{"c":"100th","g":"dis","x":80,"y":3.96},{"c":"100th","g":"dis","x":100,"y":3.91},{"c":"100th","g":"dis","x":120,"y":3.88},{"c":"100th","g":"dis","x":140,"y":3.85},{"c":"100th","g":"dis","x":155,"y":3.82},{"c":"100th","g":"dis","x":165,"y":3.75},{"c":"100th","g":"dis","x":170,"y":3.6},{"c":"100th","g":"dis","x":174,"y":3.35},{"c":"100th","g":"dis","x":178,"y":3.0},
{"c":"150th","g":"ch","x":0,"y":3.9},{"c":"150th","g":"ch","x":2,"y":3.96},{"c":"150th","g":"ch","x":40,"y":3.98},{"c":"150th","g":"ch","x":70,"y":4.02},{"c":"150th","g":"ch","x":100,"y":4.1},{"c":"150th","g":"ch","x":120,"y":4.18},{"c":"150th","g":"ch","x":140,"y":4.29},{"c":"150th","g":"ch","x":160,"y":4.42},{"c":"150th","g":"ch","x":175,"y":4.5},
{"c":"150th","g":"dis","x":2,"y":4.4},{"c":"150th","g":"dis","x":20,"y":4.3},{"c":"150th","g":"dis","x":40,"y":4.18},{"c":"150th","g":"dis","x":55,"y":4.09},{"c":"150th","g":"dis","x":65,"y":4.02},{"c":"150th","g":"dis","x":80,"y":3.94},{"c":"150th","g":"dis","x":100,"y":3.88},{"c":"150th","g":"dis","x":120,"y":3.82},{"c":"150th","g":"dis","x":140,"y":3.75},{"c":"150th","g":"dis","x":150,"y":3.67},{"c":"150th","g":"dis","x":160,"y":3.5},{"c":"150th","g":"dis","x":166,"y":3.3},{"c":"150th","g":"dis","x":171,"y":3.0},
{"c":"200th","g":"ch","x":0,"y":3.88},{"c":"200th","g":"ch","x":2,"y":3.96},{"c":"200th","g":"ch","x":40,"y":3.99},{"c":"200th","g":"ch","x":70,"y":4.04},{"c":"200th","g":"ch","x":100,"y":4.12},{"c":"200th","g":"ch","x":120,"y":4.2},{"c":"200th","g":"ch","x":140,"y":4.3},{"c":"200th","g":"ch","x":155,"y":4.38},{"c":"200th","g":"ch","x":172,"y":4.5},
{"c":"200th","g":"dis","x":2,"y":4.38},{"c":"200th","g":"dis","x":20,"y":4.27},{"c":"200th","g":"dis","x":40,"y":4.15},{"c":"200th","g":"dis","x":55,"y":4.06},{"c":"200th","g":"dis","x":65,"y":4.0},{"c":"200th","g":"dis","x":80,"y":3.92},{"c":"200th","g":"dis","x":100,"y":3.85},{"c":"200th","g":"dis","x":120,"y":3.77},{"c":"200th","g":"dis","x":140,"y":3.64},{"c":"200th","g":"dis","x":150,"y":3.5},{"c":"200th","g":"dis","x":158,"y":3.3},{"c":"200th","g":"dis","x":163,"y":3.1},{"c":"200th","g":"dis","x":165,"y":3.0}
 ]
},
"vconcat":[
 {"vconcat":[
  {"hconcat":[
   {"width":165,"height":138,"title":{"text":"(a)","offset":5,"dx":-9},
    "layer":[
     {"data":{"name":"a"},"mark":{"type":"line","strokeWidth":2.2,"point":{"filled":true,"size":9}},
      "encoding":{
       "x":{"field":"x","type":"quantitative","scale":{"domain":[-13.2,204],"nice":false,"zero":false},"axis":{"values":[0,50,100,150,200],"tickCount":12,"title":"Cycle number","labelOverlap":false}},
       "y":{"field":"y","type":"quantitative","scale":{"domain":[0,209],"nice":false},"axis":{"values":[0,40,80,120,160,200],"tickCount":12,"labelOverlap":false,"title":"Discharage capacity (mAh g⁻¹)","titleFontSize":10.5,"titleAnchor":"end","minExtent":23,"maxExtent":23,"titlePadding":2}},
       "color":{"field":"s","type":"nominal","scale":{"domain":["Baseline","0.5 wt % TFBS","1.0 wt % TFBS","2.0 wt % TFBS"],"range":["#151515","#3fd13f","#e23b3b","#2626c4"]},"legend":{"legendX":15,"legendY":80}}}},
     {"data":{"name":"a0"},"mark":{"type":"point","filled":true,"size":12},
      "encoding":{"x":{"field":"x","type":"quantitative"},"y":{"field":"y","type":"quantitative"},"color":{"field":"s","type":"nominal"}}},
     {"data":{"name":"at"},"mark":{"type":"text","fontSize":9,"fontWeight":"bold"},
      "encoding":{"x":{"field":"x","type":"quantitative"},"y":{"field":"y","type":"quantitative"},"text":{"field":"t"},"color":{"field":"s","type":"nominal"}}},
     {"data":{"name":"ar"},"mark":{"type":"rule","strokeWidth":1},
      "encoding":{"x":{"field":"x","type":"quantitative"},"y":{"field":"y","type":"quantitative"},"x2":{"field":"x2"},"y2":{"field":"y2"},"color":{"field":"s","type":"nominal"}}}
    ]},
   {"width":158,"height":137,"title":"(b)",
    "layer":[
     {"layer":[
      {"data":{"name":"b"},"mark":{"type":"line","strokeWidth":1.5,"point":{"filled":true,"size":10}},
       "encoding":{
        "x":{"field":"x","type":"quantitative","scale":{"domain":[-5,204],"nice":false,"zero":false},"axis":{"values":[0,50,100,150,200],"tickCount":12,"title":"Cycle number","labelOverlap":false}},
        "y":{"field":"y","type":"quantitative","scale":{"domain":[70,110],"nice":false,"zero":false},"axis":{"values":[70,80,90,100,110],"tickCount":12,"labelOverlap":false,"title":"Coulombic efficency (%)","titleFontSize":12,"minExtent":19,"maxExtent":19,"titlePadding":3}},
        "color":{"field":"s","type":"nominal","scale":{"domain":["Baseline","1.0 wt % TFBS"],"range":["#151515","#e55b5b"]},"legend":{"legendX":10,"legendY":4,"labelFontSize":9}}}},
      {"data":{"name":"b0"},"mark":{"type":"point","filled":true,"size":14},
       "encoding":{"x":{"field":"x","type":"quantitative"},"y":{"field":"y","type":"quantitative"},"color":{"field":"s","type":"nominal"}}},
      {"data":{"name":"bt"},"mark":{"type":"text","fontSize":9.5,"fontWeight":"bold"},
       "encoding":{"x":{"field":"x","type":"quantitative"},"y":{"field":"y","type":"quantitative"},"text":{"field":"t"},"color":{"field":"s","type":"nominal"}}},
      {"data":{"name":"br"},"mark":{"type":"rule","strokeWidth":1},
       "encoding":{"x":{"field":"x","type":"quantitative"},"y":{"field":"y","type":"quantitative"},"x2":{"field":"x2"},"y2":{"field":"y2"},"color":{"field":"s","type":"nominal"}}}
     ]},
     {"layer":[
      {"data":{"values":[{"x":101,"x2":203,"y":95.5,"y2":102}]},"mark":{"type":"rect","fill":"white","stroke":"black","strokeWidth":1},
       "encoding":{"x":{"field":"x","type":"quantitative","scale":{"domain":[4.1,205.6],"nice":false,"zero":false},"axis":null},"x2":{"field":"x2"},"y":{"field":"y","type":"quantitative","scale":{"domain":[94.66,107.4],"nice":false,"zero":false},"axis":null},"y2":{"field":"y2"}}},
      {"data":{"name":"bi"},"mark":{"type":"point","filled":true,"size":4},
       "encoding":{"x":{"field":"x","type":"quantitative"},"y":{"field":"y","type":"quantitative"},"color":{"field":"s","type":"nominal"}}},
      {"data":{"name":"bix"},"mark":{"type":"text","fontSize":6.5,"baseline":"top","dy":3,"color":"black"},
       "encoding":{"x":{"field":"x","type":"quantitative"},"y":{"field":"y","type":"quantitative"},"text":{"field":"t"}}},
      {"data":{"name":"biy"},"mark":{"type":"text","fontSize":6.5,"align":"right","dx":-3,"color":"black"},
       "encoding":{"x":{"field":"x","type":"quantitative"},"y":{"field":"y","type":"quantitative"},"text":{"field":"t"}}}
     ]}
    ],
    "resolve":{"scale":{"x":"independent","y":"independent"}}}
  ],"spacing":13,"align":"none","resolve":{"scale":{"color":"independent"}}},
  {"hconcat":[
   {"width":158,"height":138,"title":{"text":"(c)","dx":-6.5},
    "layer":[
     {"data":{"name":"c"},"mark":{"type":"line","strokeWidth":2.5,"point":{"filled":true,"size":9}},
      "encoding":{
       "x":{"field":"x","type":"quantitative","scale":{"domain":[-2.2,203.9],"nice":false,"zero":false},"axis":{"values":[0,50,100,150,200],"tickCount":12,"title":"Cycle number","labelOverlap":false}},
       "y":{"field":"y","type":"quantitative","scale":{"domain":[0,480],"nice":false},"axis":{"values":[0,80,160,240,320,400,480],"tickCount":12,"labelOverlap":false,"title":"Discharage capacity (mAh g⁻¹)","titleFontSize":10.5,"titleAnchor":"end","minExtent":24,"maxExtent":24,"titlePadding":4}},
       "color":{"field":"s","type":"nominal","scale":{"domain":["Baseline","1.0 wt % TFBS"],"range":["#151515","#e25050"]},"legend":{"legendX":12,"legendY":72,"labelFontSize":11,"rowPadding":3,"padding":4}}}},
     {"data":{"name":"ct"},"mark":{"type":"text","fontSize":9,"fontWeight":"bold"},
      "encoding":{"x":{"field":"x","type":"quantitative"},"y":{"field":"y","type":"quantitative"},"text":{"field":"t"},"color":{"field":"s","type":"nominal"}}},
     {"data":{"name":"cr"},"mark":{"type":"rule","strokeWidth":1},
      "encoding":{"x":{"field":"x","type":"quantitative"},"y":{"field":"y","type":"quantitative"},"x2":{"field":"x2"},"y2":{"field":"y2"},"color":{"field":"s","type":"nominal"}}}
    ]},
   {"width":161,"height":138,"title":"(d)",
    "layer":[
     {"data":{"name":"d"},"mark":{"type":"line","strokeWidth":2.5,"point":{"filled":true,"size":9}},
      "encoding":{
       "x":{"field":"x","type":"quantitative","scale":{"domain":[-3,103],"nice":false,"zero":false},"axis":{"values":[0,20,40,60,80,100],"tickCount":12,"title":"Cycle number","labelOverlap":false}},
       "y":{"field":"y","type":"quantitative","scale":{"domain":[0,200],"nice":false},"axis":{"values":[0,40,80,120,160,200],"tickCount":12,"labelOverlap":false,"title":"Discharage capacity (mAh g⁻¹)","titleFontSize":10.5,"titleAnchor":"end","minExtent":21,"maxExtent":21,"titlePadding":3}},
       "color":{"field":"s","type":"nominal","scale":{"domain":["Baseline","1.0 wt % TFBS"],"range":["#151515","#e25050"]},"legend":{"legendX":10,"legendY":67,"labelFontSize":11,"rowPadding":3,"padding":4}}}},
     {"data":{"name":"dt"},"mark":{"type":"text","fontSize":9,"fontWeight":"bold"},
      "encoding":{"x":{"field":"x","type":"quantitative"},"y":{"field":"y","type":"quantitative"},"text":{"field":"t"},"color":{"field":"s","type":"nominal"}}},
     {"data":{"name":"dr"},"mark":{"type":"rule","strokeWidth":1},
      "encoding":{"x":{"field":"x","type":"quantitative"},"y":{"field":"y","type":"quantitative"},"x2":{"field":"x2"},"y2":{"field":"y2"},"color":{"field":"s","type":"nominal"}}}
    ]}
  ],"spacing":22,"align":"none","resolve":{"scale":{"color":"independent"}}}
 ],"spacing":0,"align":"none","resolve":{"scale":{"color":"independent"}}},
 {"hconcat":[
  {"width":155,"height":137,"title":{"text":"(e)","dx":-5},
   "layer":[
    {"data":{"name":"e"},"mark":{"type":"line","strokeWidth":1.3},
     "encoding":{
      "x":{"field":"x","type":"quantitative","scale":{"domain":[-1.5,204.5],"nice":false,"zero":false},"axis":{"values":[0,50,100,150,200],"tickCount":12,"title":"Specific capacity (mAh g⁻¹)","labelOverlap":false}},
      "y":{"field":"y","type":"quantitative","scale":{"domain":[2.4,4.8],"nice":false,"zero":false},"axis":{"values":[2.4,2.8,3.2,3.6,4.0,4.4,4.8],"tickCount":12,"labelOverlap":false,"format":".1f","title":"Potential (V)","titleFontSize":12,"minExtent":22,"maxExtent":22,"titlePadding":6}},
      "color":{"field":"c","type":"nominal","scale":{"domain":["3rd","50th","100th","150th","200th"],"range":["#111111","#d8333b","#3fcf3f","#27279f","#55d3f2"]},"legend":null},
      "detail":{"field":"g"}}},
    {"data":{"values":[{"x":2,"y":4.74,"y2":4.38},{"x":81,"y":3.86,"y2":3.47}]},"mark":{"type":"rule","strokeWidth":4.5,"color":"#e8202a"},
     "encoding":{"x":{"field":"x","type":"quantitative"},"y":{"field":"y","type":"quantitative"},"y2":{"field":"y2"}}},
    {"data":{"values":[{"x":2,"y":4.33},{"x":81,"y":3.42}]},"mark":{"type":"point","shape":"triangle-down","filled":true,"size":110,"color":"#e8202a","opacity":1},
     "encoding":{"x":{"field":"x","type":"quantitative"},"y":{"field":"y","type":"quantitative"}}},
    {"data":{"values":[{"x":81,"y":3.98,"y2":4.33}]},"mark":{"type":"rule","strokeWidth":4.5,"color":"#5b8cc8"},
     "encoding":{"x":{"field":"x","type":"quantitative"},"y":{"field":"y","type":"quantitative"},"y2":{"field":"y2"}}},
    {"data":{"values":[{"x":81,"y":4.37}]},"mark":{"type":"point","shape":"triangle-up","filled":true,"size":110,"color":"#5b8cc8","opacity":1},
     "encoding":{"x":{"field":"x","type":"quantitative"},"y":{"field":"y","type":"quantitative"}}},
    {"data":{"values":[{"x":193,"x2":60,"y":2.54}]},"mark":{"type":"rule","strokeWidth":1.5,"color":"#222222"},
     "encoding":{"x":{"field":"x","type":"quantitative"},"x2":{"field":"x2"},"y":{"field":"y","type":"quantitative"}}},
    {"data":{"values":[{"x":58,"y":2.54}]},"mark":{"type":"point","shape":"triangle-left","filled":true,"size":30,"color":"#222222","opacity":1},
     "encoding":{"x":{"field":"x","type":"quantitative"},"y":{"field":"y","type":"quantitative"}}},
    {"data":{"values":[{"x":131,"y":2.66,"t":"200ᵗʰ, 150ᵗʰ, 100ᵗʰ, 50ᵗʰ, 3ʳᵈ"}]},"mark":{"type":"text","fontSize":8.5,"color":"black"},
     "encoding":{"x":{"field":"x","type":"quantitative"},"y":{"field":"y","type":"quantitative"},"text":{"field":"t"}}},
    {"data":{"values":[{"x":141,"x2":195,"y":4.58,"y2":4.77}]},"mark":{"type":"rect","fill":"white","stroke":"black","strokeWidth":1.2},
     "encoding":{"x":{"field":"x","type":"quantitative"},"x2":{"field":"x2"},"y":{"field":"y","type":"quantitative"},"y2":{"field":"y2"}}},
    {"data":{"values":[{"x":168,"y":4.675,"t":"Baseline"}]},"mark":{"type":"text","fontSize":9,"fontWeight":"bold","color":"black"},
     "encoding":{"x":{"field":"x","type":"quantitative"},"y":{"field":"y","type":"quantitative"},"text":{"field":"t"}}}
   ]},
  {"width":162,"height":138,"title":"(f)",
   "layer":[
    {"data":{"name":"f"},"mark":{"type":"line","strokeWidth":1.8},
     "encoding":{
      "x":{"field":"x","type":"quantitative","scale":{"domain":[-9,204],"nice":false,"zero":false},"axis":{"values":[0,50,100,150,200],"tickCount":12,"title":"Specific capacity (mAh g⁻¹)","labelOverlap":false}},
      "y":{"field":"y","type":"quantitative","scale":{"domain":[2.4,4.8],"nice":false,"zero":false},"axis":{"values":[2.4,2.8,3.2,3.6,4.0,4.4,4.8],"tickCount":12,"labelOverlap":false,"format":".1f","title":"Potential (V)","titleFontSize":12,"minExtent":18,"maxExtent":18,"titlePadding":2}},
      "color":{"field":"c","type":"nominal","scale":{"domain":["3rd","50th","100th","150th","200th"],"range":["#111111","#b8322a","#3fcf3f","#27279f","#55d3f2"]},"legend":null},
      "detail":{"field":"g"}}},
    {"data":{"values":[{"x":3.5,"y":4.72,"y2":4.52},{"x":143,"y":3.84,"y2":3.64}]},"mark":{"type":"rule","strokeWidth":4,"color":"#e8202a"},
     "encoding":{"x":{"field":"x","type":"quantitative"},"y":{"field":"y","type":"quantitative"},"y2":{"field":"y2"}}},
    {"data":{"values":[{"x":3.5,"y":4.5},{"x":143,"y":3.6}]},"mark":{"type":"point","shape":"triangle-down","filled":true,"size":90,"color":"#e8202a","opacity":1},
     "encoding":{"x":{"field":"x","type":"quantitative"},"y":{"field":"y","type":"quantitative"}}},
    {"data":{"values":[{"x":143,"y":4.16,"y2":4.36}]},"mark":{"type":"rule","strokeWidth":4,"color":"#5b8cc8"},
     "encoding":{"x":{"field":"x","type":"quantitative"},"y":{"field":"y","type":"quantitative"},"y2":{"field":"y2"}}},
    {"data":{"values":[{"x":143,"y":4.39}]},"mark":{"type":"point","shape":"triangle-up","filled":true,"size":90,"color":"#5b8cc8","opacity":1},
     "encoding":{"x":{"field":"x","type":"quantitative"},"y":{"field":"y","type":"quantitative"}}},
    {"data":{"values":[{"x":201,"x2":64,"y":2.57}]},"mark":{"type":"rule","strokeWidth":1.5,"color":"#d8262c"},
     "encoding":{"x":{"field":"x","type":"quantitative"},"x2":{"field":"x2"},"y":{"field":"y","type":"quantitative"}}},
    {"data":{"values":[{"x":62,"y":2.57}]},"mark":{"type":"point","shape":"triangle-left","filled":true,"size":30,"color":"#d8262c","opacity":1},
     "encoding":{"x":{"field":"x","type":"quantitative"},"y":{"field":"y","type":"quantitative"}}},
    {"data":{"values":[{"x":135,"y":2.69,"t":"200ᵗʰ, 150ᵗʰ, 100ᵗʰ, 50ᵗʰ, 3ʳᵈ"}]},"mark":{"type":"text","fontSize":8.5,"color":"#d8262c"},
     "encoding":{"x":{"field":"x","type":"quantitative"},"y":{"field":"y","type":"quantitative"},"text":{"field":"t"}}},
    {"data":{"values":[{"x":49,"x2":128,"y":4.54,"y2":4.74}]},"mark":{"type":"rect","fill":"white","stroke":"black","strokeWidth":1.2},
     "encoding":{"x":{"field":"x","type":"quantitative"},"x2":{"field":"x2"},"y":{"field":"y","type":"quantitative"},"y2":{"field":"y2"}}},
    {"data":{"values":[{"x":88.5,"y":4.64,"t":"1.0 wt % TFBS"}]},"mark":{"type":"text","fontSize":8.5,"fontWeight":"bold","color":"black"},
     "encoding":{"x":{"field":"x","type":"quantitative"},"y":{"field":"y","type":"quantitative"},"text":{"field":"t"}}}
   ]}
 ],"spacing":28,"align":"none","resolve":{"scale":{"color":"independent"}}}
],
"spacing":15,
"align":"none",
"resolve":{"scale":{"color":"independent"}}
}
